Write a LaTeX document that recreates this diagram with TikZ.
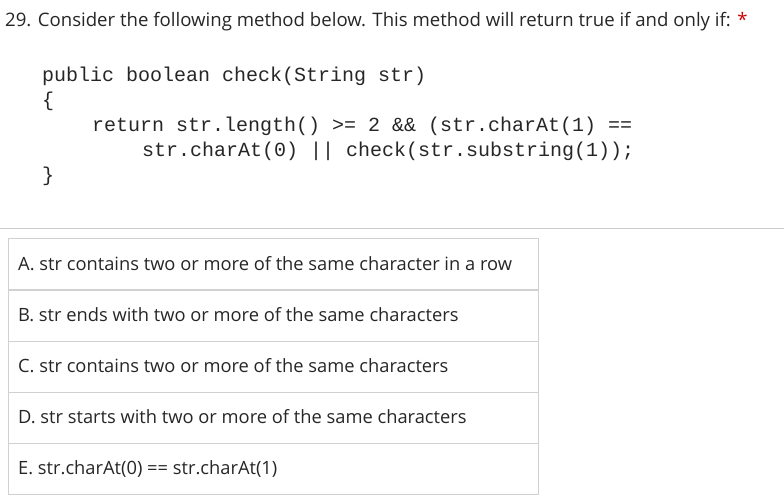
\documentclass[tikz,border=0pt]{standalone}
\usepackage{fontspec}
\setmainfont{Open Sans}
\newfontfamily\codefont{Liberation Mono}
\begin{document}
\begin{tikzpicture}[x=1pt,y=-1pt,
  title/.style={anchor=base west,inner sep=0,font=\fontsize{18.6}{20}\selectfont,text=black!85},
  code/.style={anchor=base west,inner sep=0,font=\codefont\fontsize{20}{22}\selectfont,text=black!85},
  opt/.style={anchor=base west,inner sep=0,font=\fontsize{18.3}{19}\selectfont,text=black!85},
  cell/.style={draw=black!18,line width=0.8pt}]
\useasboundingbox (0,0) rectangle (784,501);
\node[title] (t) at (5,26) {29. Consider the following method below. This method will return true if and only if: \textcolor{red!80!black}{*}};
\node[code] (c1) at (42,81) {public boolean check(String str)};
\node[code] (c2) at (42,106) {\{};
\node[code] (c3) at (92,131) {return str.length() >= 2 \&\& (str.charAt(1) ==};
\node[code] (c4) at (142,156) {str.charAt(0) || check(str.substring(1));};
\node[code] (c5) at (42,181) {\}};
\draw[draw=black!20,line width=1pt] (0,228) -- (784,228);
\foreach \y in {238,290,341,392,443} \draw[cell] (8,\y) rectangle (538,\y+51);
\node[opt] (a) at (18,270) {A. str contains two or more of the same character in a row};
\node[opt] (b) at (18,321) {B. str ends with two or more of the same characters};
\node[opt] (c) at (18,372) {C. str contains two or more of the same characters};
\node[opt] (d) at (18,423) {D. str starts with two or more of the same characters};
\node[opt] (e) at (18,474) {E. str.charAt(0) == str.charAt(1)};
\end{tikzpicture}
\end{document}
